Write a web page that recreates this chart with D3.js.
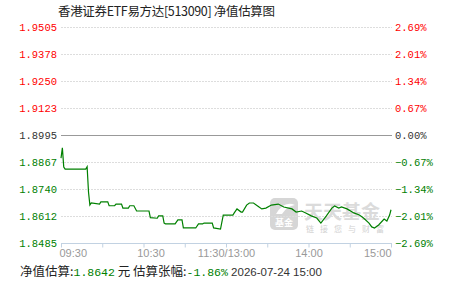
<!DOCTYPE html>
<html>
<head>
<meta charset="utf-8">
<script src="https://cdn.jsdelivr.net/npm/d3@7"></script>
<style>
  body { margin: 0; background: #fff; }
  svg { display: block; }
</style>
</head>
<body>
<svg id="chart" width="451" height="281"></svg>
<script>
// chart data
const title = "香港证券ETF易方达[513090] 净值估算图";
const navTicks = [1.9505, 1.9378, 1.9250, 1.9123, 1.8995, 1.8867, 1.8740, 1.8612, 1.8485];
const pctTicks = ["2.69%", "2.01%", "1.34%", "0.67%", "0.00%", "-0.67%", "-1.34%", "-2.01%", "-2.69%"];
const baseNav = 1.8995;
const timeLabels = ["09:30", "10:30", "11:30/13:00", "14:00", "15:00"];
const times = [
  "09:30", "09:31", "09:32", "09:33", "09:48", "09:49", "09:50", "09:51", "09:52", "09:58",
  "09:59", "10:04", "10:05", "10:09", "10:10", "10:14", "10:15", "10:19", "10:20", "10:23",
  "10:25", "10:34", "10:35", "10:40", "10:41", "10:44", "10:45", "10:46", "10:53", "10:55",
  "10:58", "10:59", "11:08", "11:10", "11:13", "11:14", "11:20", "11:21", "11:26", "11:28",
  "11:30", "13:05", "13:06", "13:08", "13:11", "13:12", "13:15", "13:17", "13:20", "13:23",
  "13:26", "13:29", "13:33", "13:38", "13:42", "13:48", "13:51", "13:55", "13:58", "14:02",
  "14:06", "14:09", "14:13", "14:17", "14:19", "14:22", "14:24", "14:28", "14:33", "14:37",
  "14:40", "14:44", "14:46", "14:48", "14:51", "14:55", "14:57", "14:59", "15:00"
];
const navValues = [
  1.8886, 1.8934, 1.8844, 1.8834, 1.8834, 1.8845, 1.8726, 1.8664, 1.8674, 1.8669,
  1.8679, 1.8679, 1.8661, 1.8661, 1.8669, 1.8669, 1.8650, 1.8650, 1.8661, 1.8661,
  1.8636, 1.8636, 1.8605, 1.8602, 1.8613, 1.8613, 1.8579, 1.8575, 1.8575, 1.8594,
  1.8594, 1.8556, 1.8556, 1.8575, 1.8575, 1.8579, 1.8579, 1.8556, 1.8551, 1.8617,
  1.8617, 1.8617, 1.8627, 1.8646, 1.8631, 1.8631, 1.8664, 1.8674, 1.8674, 1.8660,
  1.8646, 1.8650, 1.8664, 1.8669, 1.8655, 1.8646, 1.8631, 1.8636, 1.8627, 1.8613,
  1.8603, 1.8579, 1.8613, 1.8650, 1.8660, 1.8650, 1.8655, 1.8646, 1.8627, 1.8617,
  1.8603, 1.8579, 1.8561, 1.8556, 1.8570, 1.8598, 1.8589, 1.8617, 1.8642
];
const lastNav = "1.8642";
const lastPct = "-1.86%";
const lastTime = "2026-07-24 15:00";

// minutes since 09:30, lunch break collapsed (11:30 and 13:00 share a slot)
function minuteIndex(t) {
  const [h, m] = t.split(":").map(Number);
  const mins = h * 60 + m;
  return mins <= 690 ? mins - 570 : mins - 780 + 120;
}

const svg = d3.select("#chart");
const plotLeft = 61, plotRight = 391, plotTop = 27, plotBottom = 243;
const mono = "'Liberation Mono', 'DejaVu Sans Mono', monospace";
const cjk = "'Noto Sans CJK SC', sans-serif";
const green = "#008000";

const x = d3.scaleLinear().domain([0, 240]).range([plotLeft, plotRight]);
const y = d3.scaleLinear().domain([navTicks[navTicks.length - 1], navTicks[0]]).range([plotBottom, plotTop]);

// title
svg.append("text")
  .attr("x", 58).attr("y", 16)
  .attr("font-family", cjk)
  .attr("font-size", 12.5)
  .attr("fill", "#222")
  .attr("textLength", 217)
  .attr("lengthAdjust", "spacing")
  .text(title);

// watermark (天天基金 logo, faded)
const wm = svg.append("g").attr("opacity", 0.6);
wm.append("rect")
  .attr("x", 270).attr("y", 198).attr("width", 28).attr("height", 32).attr("rx", 5)
  .attr("fill", "#bbb");
wm.append("path")
  .attr("d", "M276,214 Q284,200 295,205 Q287,206 282,214 Z")
  .attr("fill", "#fff");
wm.append("text")
  .attr("x", 284).attr("y", 226).attr("text-anchor", "middle")
  .attr("font-family", cjk).attr("font-size", 9).attr("font-weight", "bold")
  .attr("fill", "#fff").text("基金");
wm.append("text")
  .attr("x", 304).attr("y", 219)
  .attr("font-family", cjk).attr("font-size", 19).attr("font-weight", "bold")
  .attr("fill", "#c4c4c4").text("天天基金");
wm.append("text")
  .attr("x", 306).attr("y", 232)
  .attr("font-family", cjk).attr("font-size", 8)
  .attr("fill", "#b4b4b4").attr("letter-spacing", 6).text("链接您与财富");

// grid lines
navTicks.forEach(v => {
  if (v === navTicks[navTicks.length - 1]) return;
  const isBase = v === baseNav;
  svg.append("line")
    .attr("x1", plotLeft).attr("x2", plotRight + 1)
    .attr("y1", Math.round(y(v)) + 0.5).attr("y2", Math.round(y(v)) + 0.5)
    .attr("stroke", isBase ? "#999" : "#ddd")
    .attr("stroke-width", 1)
    .attr("stroke-dasharray", isBase ? null : "2,1");
});

// y labels
navTicks.forEach((v, i) => {
  const col = v > baseNav ? "#f00" : v < baseNav ? green : "#333";
  const yy = Math.round(y(v)) + 0.5;
  svg.append("text")
    .attr("x", 57).attr("y", yy).attr("dy", "0.35em")
    .attr("text-anchor", "end")
    .attr("font-family", mono).attr("font-size", 10.5)
    .attr("fill", col).text(v.toFixed(4));
  svg.append("text")
    .attr("x", 395).attr("y", yy).attr("dy", "0.35em")
    .attr("font-family", mono).attr("font-size", 10.5)
    .attr("fill", col).text(pctTicks[i].replace("-", "\u2212"));
});

// x axis
const xAxis = d3.axisBottom(x)
  .tickValues(d3.range(0, 241, 30))
  .tickSize(4)
  .tickFormat(d => d % 60 === 0 ? timeLabels[d / 60] : "");
const gx = svg.append("g")
  .attr("transform", `translate(0,${plotBottom + 0.5})`)
  .call(xAxis);
gx.select(".domain").attr("stroke", "#c2d2e2").attr("d", `M${plotLeft},0H${plotRight + 1}`);
gx.selectAll(".tick line").attr("stroke", "#c2d2e2");
gx.selectAll(".tick text").filter(function () { return this.textContent === ""; }).remove();
gx.selectAll(".tick text")
  .attr("fill", "#999")
  .attr("font-family", "'Liberation Sans', Arial, sans-serif")
  .attr("font-size", 11)
  .attr("y", 5)
  .attr("dy", "0.75em")
  // first label sits right of its tick, last one left of it
  .attr("text-anchor", d => d === 0 ? "start" : d === 240 ? "end" : "middle")
  .attr("dx", d => d === 0 ? -2 : d === 60 ? 7 : 0);

// nav line
const line = d3.line()
  .x((d, i) => x(minuteIndex(times[i])))
  .y(d => y(d));
svg.append("path")
  .datum(navValues)
  .attr("fill", "none")
  .attr("stroke", green)
  .attr("stroke-width", 1.2)
  .attr("d", line);

// footer
const foot = svg.append("text")
  .attr("x", 20).attr("y", 276)
  .attr("font-family", cjk)
  .attr("font-size", 12.5)
  .attr("fill", "#222");
foot.append("tspan").text("净值估算:");
foot.append("tspan").attr("fill", green).attr("font-family", mono).attr("font-size", 11.5).text(lastNav);
foot.append("tspan").text(" 元 估算张幅:");
foot.append("tspan").attr("fill", green).attr("font-family", mono).attr("font-size", 11.5).text(lastPct);
foot.append("tspan").attr("fill", "#333").attr("font-family", "'Liberation Sans', Arial, sans-serif").attr("font-size", 11.5).text(" " + lastTime);
</script>
</body>
</html>
